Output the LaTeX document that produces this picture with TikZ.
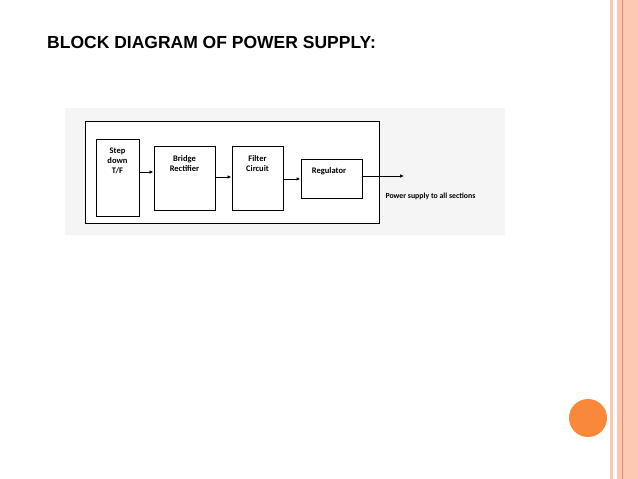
\documentclass[tikz,border=0pt]{standalone}
\usepackage{fontspec}
\setmainfont{Liberation Sans}
\newfontfamily\carlitofont{Carlito}
\usetikzlibrary{arrows.meta}
\definecolor{salmon}{HTML}{FCC8B2}
\definecolor{darksal}{HTML}{E8906C}
\definecolor{orng}{HTML}{FA883A}
\begin{document}
\begin{tikzpicture}[x=1pt,y=-1pt,
  blk/.style={draw,fill=white,line width=1pt,inner sep=0pt},
  lab/.style={font=\carlitofont\bfseries\fontsize{8.5}{10}\selectfont,align=center},
  arr/.style={-{Latex[length=4pt,width=3.5pt]},line width=1pt}]
\useasboundingbox[fill=white] (0,0) rectangle (638,479);
\fill[salmon] (610,0) rectangle (613,479);
\fill[salmon] (617,0) rectangle (638,479);
\draw[darksal,line width=0.8pt] (622,0) -- (622,479);
\fill[orng] (588,418) circle (19);
\node[anchor=west,inner sep=0pt,font=\bfseries\fontsize{17.5}{20}\selectfont] (title) at (47,42) {BLOCK DIAGRAM OF POWER SUPPLY:};
\fill[black!4] (65,108) rectangle (505,235);
\node[draw,fill=white,line width=1pt,minimum width=294,minimum height=102,inner sep=0pt] (outer) at (232,172) {};
\node[blk,minimum width=43,minimum height=77] (sd) at (117.5,177.5) {};
\node[lab] at (117.5,161) {Step\\down\\T/F};
\node[blk,minimum width=61,minimum height=64] (br) at (184.5,178) {};
\node[lab] at (184.5,163.5) {Bridge\\Rectifier};
\node[blk,minimum width=51,minimum height=64] (fc) at (257.5,178) {};
\node[lab] at (257.5,164) {Filter\\Circuit};
\node[blk,minimum width=61,minimum height=39] (rg) at (331.5,178.5) {};
\node[lab] at (329,171) {Regulator};
\coordinate (out) at (404,176);
\node[font=\carlitofont\bfseries\fontsize{7.8}{9}\selectfont,anchor=west] (lbl) at (382,196) {Power supply to all sections};
\draw[arr] (sd.east |- 0,172) -- (br.west |- 0,172);
\draw[arr] (br.east |- 0,177) -- (fc.west |- 0,177);
\draw[arr] (fc.east |- 0,179) -- (rg.west |- 0,179);
\draw[arr] (rg.east |- out) -- (out);
\end{tikzpicture}
\end{document}
